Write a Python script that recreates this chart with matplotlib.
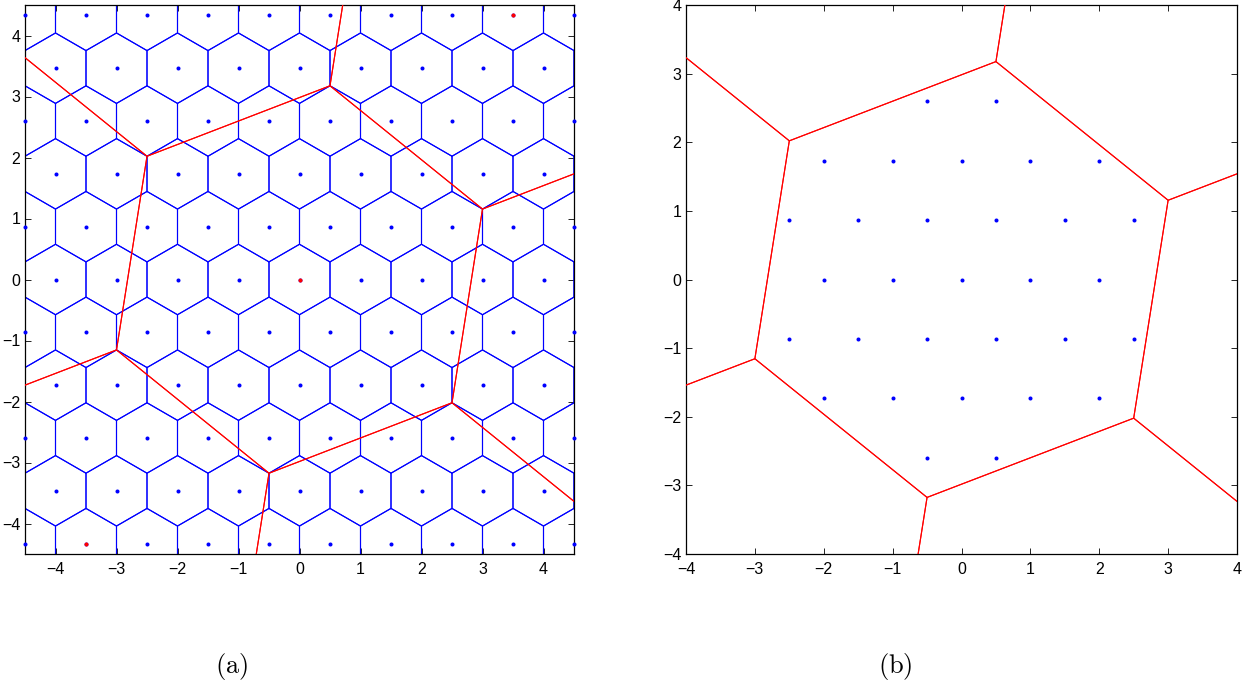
import numpy as np
import matplotlib
matplotlib.use("Agg")
import matplotlib.pyplot as plt
from matplotlib.collections import LineCollection

plt.rcParams['font.family'] = ['Liberation Sans', 'DejaVu Sans']
plt.rcParams['mathtext.fontset'] = 'cm'

# ---- data ----
# hexagonal lattice basis (unit spacing)
lattice_basis = [(1.0, 0.0), (0.5, np.sqrt(3) / 2)]
# sublattice generators in lattice coordinates (index 31)
sub_generators = [(1, 5), (6, -1)]
left_lim = (-4.5, 4.5)
right_lim = (-4.0, 4.0)
left_ticks = [-4, -3, -2, -1, 0, 1, 2, 3, 4]
right_ticks = [-4, -3, -2, -1, 0, 1, 2, 3, 4]
panel_labels = ['(a)', '(b)']

B = np.array(lattice_basis)


def to_xy(a, b):
    return a * B[0] + b * B[1]


def rot60(v):
    c, s = 0.5, np.sqrt(3) / 2
    return np.array([c * v[0] - s * v[1], s * v[0] + c * v[1]])


def circumcenter(p, q):
    d = 2 * (p[0] * q[1] - p[1] * q[0])
    pp, qq = p @ p, q @ q
    return np.array([(q[1] * pp - p[1] * qq) / d, (p[0] * qq - q[0] * pp) / d])


def hex_cell(v):
    """Voronoi cell vertices of the hex lattice that has v as shortest vector."""
    nbrs = [np.array(v, float)]
    for _ in range(5):
        nbrs.append(rot60(nbrs[-1]))
    verts = [circumcenter(nbrs[k], nbrs[(k + 1) % 6]) for k in range(6)]
    verts.append(verts[0])
    return np.array(verts)


fine_cell = hex_cell(to_xy(1, 0))
g1 = to_xy(*sub_generators[0])
g2 = to_xy(*sub_generators[1])
coarse_cell = hex_cell(g1)

blue = (0, 0, 1)
red = (1, 0, 0)
lw = 0.8
ms = 2.9

fig = plt.figure(figsize=(12.42, 6.86), dpi=100)
axL = fig.add_axes([25 / 1242, 132 / 686, 549 / 1242, 549 / 686])
axR = fig.add_axes([686 / 1242, 132 / 686, 551 / 1242, 549 / 686])

# ---- left panel ----
segs = []
pts = []
for a in range(-10, 11):
    for b in range(-8, 9):
        p = to_xy(a, b)
        if abs(p[0]) < 6 and abs(p[1]) < 6:
            segs.append(fine_cell + p)
        if left_lim[0] - 1e-9 <= p[0] <= left_lim[1] + 1e-9 and left_lim[0] - 1e-9 <= p[1] <= left_lim[1] + 1e-9:
            pts.append(p)
axL.add_collection(LineCollection(segs, colors=[blue], linewidths=lw, zorder=2))

csegs = []
red_pts = []
for m in range(-3, 4):
    for n in range(-3, 4):
        c = m * g1 + n * g2
        if abs(c[0]) < 12 and abs(c[1]) < 12:
            csegs.append(coarse_cell + c)
        if left_lim[0] <= c[0] <= left_lim[1] and left_lim[0] <= c[1] <= left_lim[1]:
            red_pts.append(c)
axL.add_collection(LineCollection(csegs, colors=[red], linewidths=lw, zorder=3))

pts = np.array(pts)
red_pts = np.array(red_pts)
axL.plot(pts[:, 0], pts[:, 1], 'o', color=blue, ms=ms, mew=0, clip_on=False, zorder=4)
axL.plot(red_pts[:, 0], red_pts[:, 1], 'o', color=red, ms=ms, mew=0, clip_on=False, zorder=5)
axL.set_xlim(*left_lim)
axL.set_ylim(*left_lim)
axL.set_xticks(left_ticks)
axL.set_yticks(left_ticks)

# ---- right panel ----
axR.add_collection(LineCollection(csegs, colors=[red], linewidths=lw, zorder=3))
nbrs = [g1, g2, g2 - g1, -g1, -g2, g1 - g2]
inner = []
for a in range(-8, 9):
    for b in range(-8, 9):
        p = to_xy(a, b)
        if all(p @ v < (v @ v) / 2 - 1e-9 for v in nbrs) or (a == 0 and b == 0):
            inner.append(p)
inner = np.array(inner)
axR.plot(inner[:, 0], inner[:, 1], 'o', color=blue, ms=ms, mew=0, zorder=4)
axR.set_xlim(*right_lim)
axR.set_ylim(*right_lim)
axR.set_xticks(right_ticks)
axR.set_yticks(right_ticks)

for ax in (axL, axR):
    ax.tick_params(direction='in', top=True, right=True, length=4, width=0.6,
                   labelsize=11.5, color='black')
    ax.tick_params(axis='x', pad=6)
    ax.tick_params(axis='y', pad=3.5)
    for s in ax.spines.values():
        s.set_linewidth(0.9)

fig.text(232 / 1242, 1 - 666 / 686, r'$\mathrm{' + panel_labels[0] + '}$', ha='center', va='center', fontsize=19)
fig.text(895 / 1242, 1 - 666 / 686, r'$\mathrm{' + panel_labels[1] + '}$', ha='center', va='center', fontsize=19)

fig.savefig('out.png', dpi=100)
